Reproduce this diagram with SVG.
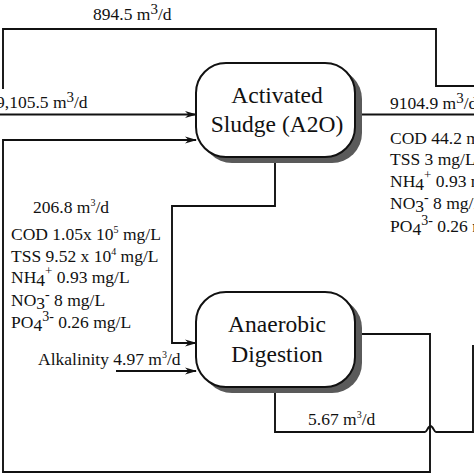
<svg xmlns="http://www.w3.org/2000/svg" width="474" height="474" viewBox="0 0 474 474">
<defs>
<marker id="arr" markerWidth="12" markerHeight="8" refX="11" refY="4" orient="auto" markerUnits="userSpaceOnUse">
<path d="M0,0.5 L12,4 L0,7.5 L3.5,4 z" fill="#111"/>
</marker>
</defs>
<style>
.t{font-family:"Liberation Serif","Times New Roman",serif;font-size:17.5px;fill:#111}
.b{font-family:"Liberation Serif","Times New Roman",serif;font-size:23.5px;fill:#111;text-anchor:middle}
.ln{fill:none;stroke:#111;stroke-width:1.9}
.sh{fill:#5a5a5a}
.bx{fill:#fff;stroke:#111;stroke-width:2}
</style>
<rect width="474" height="474" fill="#fff"/>
<g id="connectors">
<polyline class="ln" points="3,89 3,29 436,29 436,86 474,86"/>
<line class="ln" x1="0" y1="114.5" x2="196" y2="114.5" marker-end="url(#arr)"/>
<line class="ln" x1="355" y1="114.5" x2="474" y2="114.5"/>
<polyline class="ln" points="357,334 430,334 430,472 3,472 3,140 196,140" marker-end="url(#arr)"/>
<polyline class="ln" points="275,157 275,206 172,206 172,343 196,343" marker-end="url(#arr)"/>
<line class="ln" x1="116" y1="371" x2="196" y2="371" marker-end="url(#arr)"/>
<path class="ln" d="M275,387 V432 H425 C427,432 428,426 430.5,426 C433,426 434,432 436,432 H473 V345"/>
</g>
<g id="a2o">
<rect class="sh" x="202" y="69" width="160" height="94" rx="30"/>
<rect class="bx" x="196" y="63" width="159" height="94" rx="30"/>
<text class="b" x="277" y="103">Activated</text>
<text class="b" x="277" y="132">Sludge (A2O)</text>
</g>
<g id="anaerobic">
<rect class="sh" x="202" y="298" width="160" height="95" rx="30"/>
<rect class="bx" x="196" y="292" width="159" height="95" rx="30"/>
<text class="b" x="277" y="332">Anaerobic</text>
<text class="b" x="277" y="362">Digestion</text>
</g>
<g id="labels">
<text class="t" x="93" y="20">894.5 m<tspan font-size="15" dy="-6">3</tspan><tspan dy="6">/d</tspan></text>
<text class="t" x="-4" y="108">9,105.5 m<tspan font-size="15" dy="-6">3</tspan><tspan dy="6">/d</tspan></text>
<text class="t" x="390" y="109">9104.9 m<tspan font-size="15" dy="-6">3</tspan><tspan dy="6">/d</tspan></text>
<text class="t" x="390" y="144">COD 44.2 mg/L</text>
<text class="t" x="390" y="165">TSS 3 mg/L</text>
<text class="t" x="390" y="187">NH<tspan dy="3">4</tspan><tspan font-size="13" dy="-11">+</tspan><tspan dy="8"> 0.93 mg/L</tspan></text>
<text class="t" x="390" y="209">NO<tspan dy="3">3</tspan><tspan font-size="14" dy="-10">-</tspan><tspan dy="7"> 8 mg/L</tspan></text>
<text class="t" x="390" y="232">PO<tspan dy="3">4</tspan><tspan font-size="14" dy="-10">3-</tspan><tspan dy="7"> 0.26 mg/L</tspan></text>
<text class="t" x="33" y="213">206.8 m<tspan font-size="10" dy="-7">3</tspan><tspan dy="7">/d</tspan></text>
<text class="t" x="11" y="240">COD 1.05x 10<tspan font-size="10" dy="-7">5</tspan><tspan dy="7"> mg/L</tspan></text>
<text class="t" x="11" y="262">TSS 9.52 x 10<tspan font-size="10" dy="-7">4</tspan><tspan dy="7"> mg/L</tspan></text>
<text class="t" x="11" y="283">NH<tspan dy="3">4</tspan><tspan font-size="13" dy="-11">+</tspan><tspan dy="8"> 0.93 mg/L</tspan></text>
<text class="t" x="11" y="306">NO<tspan dy="3">3</tspan><tspan font-size="14" dy="-10">-</tspan><tspan dy="7"> 8 mg/L</tspan></text>
<text class="t" x="11" y="328">PO<tspan dy="3">4</tspan><tspan font-size="14" dy="-10">3-</tspan><tspan dy="7"> 0.26 mg/L</tspan></text>
<text class="t" x="38" y="365">Alkalinity 4.97 m<tspan font-size="10" dy="-7">3</tspan><tspan dy="7">/d</tspan></text>
<text class="t" x="308" y="425">5.67 m<tspan font-size="10" dy="-7">3</tspan><tspan dy="7">/d</tspan></text>
</g>
</svg>
